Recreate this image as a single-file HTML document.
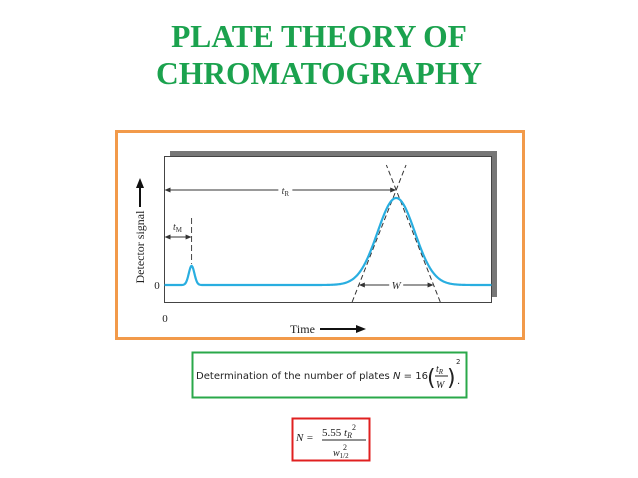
<!DOCTYPE html>
<html><head><meta charset="utf-8"><style>
html,body{margin:0;padding:0;background:#fff;width:638px;height:478px;overflow:hidden}
</style></head><body>
<svg width="638" height="478" viewBox="0 0 638 478" xmlns="http://www.w3.org/2000/svg">
<text x="319" y="47" text-anchor="middle" font-family="Liberation Serif, serif" font-weight="bold" font-size="31.5" fill="#1ba24e">PLATE THEORY OF</text>
<text x="319" y="84" text-anchor="middle" font-family="Liberation Serif, serif" font-weight="bold" font-size="31.5" fill="#1ba24e">CHROMATOGRAPHY</text>
<rect x="116.5" y="131.5" width="407" height="207" fill="#fff" stroke="#f29a4a" stroke-width="3"/>
<rect x="170" y="151" width="327" height="146" fill="#777"/>
<rect x="164.5" y="156.5" width="327" height="146" fill="#fff" stroke="#444" stroke-width="1"/>
<g id="chart"></g>
<text x="144" y="247" transform="rotate(-90 144 247)" text-anchor="middle" font-family="Liberation Serif, serif" font-size="12" fill="#222">Detector signal</text>
<line x1="140" y1="207" x2="140" y2="186" stroke="#111" stroke-width="2"/>
<polygon points="140,178 136,188 144,188" fill="#111"/>
<text x="157" y="289" text-anchor="middle" font-family="Liberation Serif, serif" font-size="11" fill="#222">0</text>
<text x="165" y="322" text-anchor="middle" font-family="Liberation Serif, serif" font-size="11" fill="#222">0</text>
<text x="290" y="333" font-family="Liberation Serif, serif" font-size="12" fill="#222">Time</text>
<line x1="320" y1="329" x2="358" y2="329" stroke="#111" stroke-width="2"/>
<polygon points="366,329 356,325 356,333" fill="#111"/>
<rect x="192.5" y="352.5" width="274" height="45" fill="#fff" stroke="#2aa84a" stroke-width="2"/>
<text x="196" y="379" font-family="DejaVu Sans, sans-serif" font-size="10" fill="#222" textLength="232" lengthAdjust="spacingAndGlyphs">Determination of the number of plates <tspan font-style="italic">N</tspan> = 16</text>
<text x="427" y="385" font-family="DejaVu Sans, sans-serif" font-size="22" fill="#222">(</text>
<text x="436" y="372" font-family="Liberation Serif, serif" font-style="italic" font-size="10" fill="#222">t<tspan font-size="7" dy="2">R</tspan></text>
<line x1="435" y1="376" x2="448" y2="376" stroke="#222" stroke-width="1"/>
<text x="436" y="388" font-family="Liberation Serif, serif" font-style="italic" font-size="10" fill="#222">W</text>
<text x="447" y="385" font-family="DejaVu Sans, sans-serif" font-size="22" fill="#222">)</text>
<text x="456" y="364" font-family="DejaVu Sans, sans-serif" font-size="7" fill="#222">2</text>
<text x="457" y="384" font-family="DejaVu Sans, sans-serif" font-size="10" fill="#222">.</text>
<rect x="292.5" y="418.5" width="77" height="42" fill="#fff" stroke="#e02020" stroke-width="2"/>
<text x="296" y="441" font-family="Liberation Serif, serif" font-style="italic" font-size="11" fill="#222">N =</text>
<text x="322" y="436" font-family="Liberation Serif, serif" font-size="11" fill="#222">5.55 <tspan font-style="italic">t</tspan><tspan font-style="italic" font-size="8" dy="2">R</tspan><tspan font-size="8" dy="-8">2</tspan></text>
<line x1="322" y1="440" x2="366" y2="440" stroke="#222" stroke-width="1"/>
<text x="343" y="450" font-family="Liberation Serif, serif" font-size="8" fill="#222">2</text>
<text x="333" y="456" font-family="Liberation Serif, serif" font-style="italic" font-size="10" fill="#222">w<tspan font-style="normal" font-size="7" dy="2">1/2</tspan></text>
</svg>
<script>
const peakNames = ["unretained", "analyte"];
const peakTimes = [8.7, 74.4];     // time units
const peakHeights = [0.22, 1.0];   // relative signal
const peakSigmas = [0.9, 6.0];     // time units
const xTicks = [0];
const yTicks = [0];

const NS = "http://www.w3.org/2000/svg";
const X0 = 164.5, X1 = 491.5, tMax = 105;
const Y0 = 285, YH = 87;
function xs(t){ return X0 + (t / tMax) * (X1 - X0); }
function ys(v){ return Y0 - v * YH; }
function sig(t){ let s = 0; for (let i = 0; i < peakTimes.length; i++) { s += peakHeights[i] * Math.exp(-Math.pow(t - peakTimes[i], 2) / (2 * peakSigmas[i] * peakSigmas[i])); } return s; }
const g = document.getElementById('chart');
function mk(tag, attrs){ const e = document.createElementNS(NS, tag); for (const k in attrs) e.setAttribute(k, attrs[k]); g.appendChild(e); return e; }

const ai = 1, tA = peakTimes[ai], hA = peakHeights[ai], sA = peakSigmas[ai];
const apexY = ys(hA) - 8;
const baseL = tA - 2 * sA;
const slopePx = (xs(tA) - xs(baseL)) / (Y0 - apexY);
const yBot = 302, yTop = 165;
const tl = mk('line', {x1: xs(tA) - slopePx * (yBot - apexY), y1: yBot, x2: xs(tA) + slopePx * (apexY - yTop), y2: yTop, stroke: '#333', 'stroke-width': 1, 'stroke-dasharray': '5,3'});


const tr = mk('line', {x1: xs(tA) + slopePx * (yBot - apexY), y1: yBot, x2: xs(tA) - slopePx * (apexY - yTop), y2: yTop, stroke: '#333', 'stroke-width': 1, 'stroke-dasharray': '5,3'});



let d = '';
for (let t = 0; t <= tMax; t += 0.25) { d += (t === 0 ? 'M' : 'L') + xs(t).toFixed(2) + ',' + ys(sig(t)).toFixed(2); }
const p = mk('path', {d: d, fill: 'none', stroke: '#29aee0', 'stroke-width': 2.2});



function arrowLine(xa, xb, y, name){
  const l = mk('line', {x1: xa + 5, y1: y, x2: xb - 5, y2: y, stroke: '#333', 'stroke-width': 0.9});
  
  
  mk('polygon', {points: `${xa},${y} ${xa+6},${y-2.5} ${xa+6},${y+2.5}`, fill: '#333'});
  mk('polygon', {points: `${xb},${y} ${xb-6},${y-2.5} ${xb-6},${y+2.5}`, fill: '#333'});
}
arrowLine(X0, xs(tA), apexY, 'tr-arrow');
mk('rect', {x: (X0 + xs(tA)) / 2 - 2, y: apexY - 5, width: 14, height: 12, fill: '#fff'});
const tR = mk('text', {x: (X0 + xs(tA)) / 2 + 5, y: apexY + 4, 'font-family': 'Liberation Serif, serif', 'font-style': 'italic', 'font-size': 10, fill: '#333', 'text-anchor': 'middle'});


tR.innerHTML = 't<tspan font-size="7" font-style="normal" dy="2">R</tspan>';
const xM = xs(peakTimes[0]);
const dm = mk('line', {x1: xM, y1: 218, x2: xM, y2: ys(peakHeights[0]) - 2, stroke: '#333', 'stroke-width': 0.9, 'stroke-dasharray': '6,3'});


arrowLine(X0, xM, 237, 'tm-arrow');
const tM = mk('text', {x: 173, y: 230, 'font-family': 'Liberation Serif, serif', 'font-style': 'italic', 'font-size': 10, fill: '#333'});


tM.innerHTML = 't<tspan font-size="7" font-style="normal" dy="2">M</tspan>';
const xWL = xs(tA) - slopePx * (Y0 - apexY), xWR = xs(tA) + slopePx * (Y0 - apexY);
arrowLine(xWL, xWR, Y0, 'width-arrow');
mk('rect', {x: xs(tA) - 7, y: Y0 - 6, width: 14, height: 12, fill: '#fff'});
const wl = mk('text', {x: xs(tA), y: Y0 + 4, 'font-family': 'Liberation Serif, serif', 'font-style': 'italic', 'font-size': 11, fill: '#333', 'text-anchor': 'middle'});


wl.textContent = 'W';
</script>
</body></html>
